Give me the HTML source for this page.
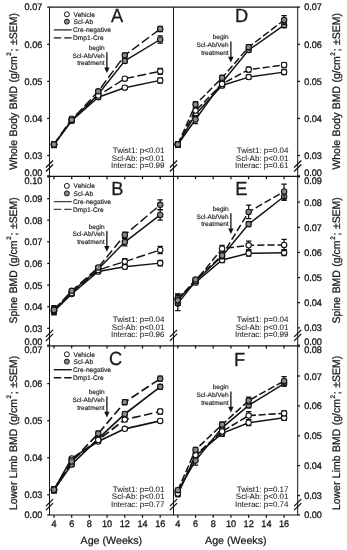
<!DOCTYPE html>
<html lang="en">
<head>
<meta charset="utf-8">
<title>BMD by age: Vehicle vs Scl-Ab, Cre-negative vs Dmp1-Cre</title>
<style>
html,body{margin:0;padding:0;background:#ffffff;}
body{width:347px;height:550px;overflow:hidden;}
svg{display:block;}
</style>
</head>
<body>
<svg width="347" height="550" viewBox="0 0 347 550" font-family="'Liberation Sans', Arial, Helvetica, sans-serif" fill="#1a1a1a" text-rendering="geometricPrecision">
<rect x="0" y="0" width="347" height="550" fill="#ffffff"/>
<g stroke="#141414" fill="none" stroke-linecap="butt">
<line x1="49" y1="7.1" x2="298.2" y2="7.1" stroke-width="1.2"/>
<line x1="49" y1="176.4" x2="298.2" y2="176.4" stroke-width="1.2"/>
<line x1="49" y1="345.8" x2="298.2" y2="345.8" stroke-width="1.2"/>
<line x1="49" y1="515" x2="298.2" y2="515" stroke-width="1.2"/>
<line x1="49.5" y1="7.1" x2="49.5" y2="515" stroke-width="1"/>
<line x1="173.5" y1="7.1" x2="173.5" y2="515" stroke-width="1"/>
<line x1="297.7" y1="7.1" x2="297.7" y2="515" stroke-width="1"/>
<line x1="54" y1="176.4" x2="54" y2="179.2" stroke-width="1.25"/>
<line x1="177.8" y1="176.4" x2="177.8" y2="179.2" stroke-width="1.25"/>
<line x1="71.7" y1="176.4" x2="71.7" y2="179.2" stroke-width="1.25"/>
<line x1="195.52" y1="176.4" x2="195.52" y2="179.2" stroke-width="1.25"/>
<line x1="89.4" y1="176.4" x2="89.4" y2="179.2" stroke-width="1.25"/>
<line x1="213.23" y1="176.4" x2="213.23" y2="179.2" stroke-width="1.25"/>
<line x1="107.1" y1="176.4" x2="107.1" y2="179.2" stroke-width="1.25"/>
<line x1="230.95" y1="176.4" x2="230.95" y2="179.2" stroke-width="1.25"/>
<line x1="124.8" y1="176.4" x2="124.8" y2="179.2" stroke-width="1.25"/>
<line x1="248.66" y1="176.4" x2="248.66" y2="179.2" stroke-width="1.25"/>
<line x1="142.5" y1="176.4" x2="142.5" y2="179.2" stroke-width="1.25"/>
<line x1="266.38" y1="176.4" x2="266.38" y2="179.2" stroke-width="1.25"/>
<line x1="160.2" y1="176.4" x2="160.2" y2="179.2" stroke-width="1.25"/>
<line x1="284.1" y1="176.4" x2="284.1" y2="179.2" stroke-width="1.25"/>
<line x1="54" y1="345.8" x2="54" y2="348.6" stroke-width="1.25"/>
<line x1="177.8" y1="345.8" x2="177.8" y2="348.6" stroke-width="1.25"/>
<line x1="71.7" y1="345.8" x2="71.7" y2="348.6" stroke-width="1.25"/>
<line x1="195.52" y1="345.8" x2="195.52" y2="348.6" stroke-width="1.25"/>
<line x1="89.4" y1="345.8" x2="89.4" y2="348.6" stroke-width="1.25"/>
<line x1="213.23" y1="345.8" x2="213.23" y2="348.6" stroke-width="1.25"/>
<line x1="107.1" y1="345.8" x2="107.1" y2="348.6" stroke-width="1.25"/>
<line x1="230.95" y1="345.8" x2="230.95" y2="348.6" stroke-width="1.25"/>
<line x1="124.8" y1="345.8" x2="124.8" y2="348.6" stroke-width="1.25"/>
<line x1="248.66" y1="345.8" x2="248.66" y2="348.6" stroke-width="1.25"/>
<line x1="142.5" y1="345.8" x2="142.5" y2="348.6" stroke-width="1.25"/>
<line x1="266.38" y1="345.8" x2="266.38" y2="348.6" stroke-width="1.25"/>
<line x1="160.2" y1="345.8" x2="160.2" y2="348.6" stroke-width="1.25"/>
<line x1="284.1" y1="345.8" x2="284.1" y2="348.6" stroke-width="1.25"/>
<line x1="54" y1="515" x2="54" y2="517.8" stroke-width="1.25"/>
<line x1="177.8" y1="515" x2="177.8" y2="517.8" stroke-width="1.25"/>
<line x1="71.7" y1="515" x2="71.7" y2="517.8" stroke-width="1.25"/>
<line x1="195.52" y1="515" x2="195.52" y2="517.8" stroke-width="1.25"/>
<line x1="89.4" y1="515" x2="89.4" y2="517.8" stroke-width="1.25"/>
<line x1="213.23" y1="515" x2="213.23" y2="517.8" stroke-width="1.25"/>
<line x1="107.1" y1="515" x2="107.1" y2="517.8" stroke-width="1.25"/>
<line x1="230.95" y1="515" x2="230.95" y2="517.8" stroke-width="1.25"/>
<line x1="124.8" y1="515" x2="124.8" y2="517.8" stroke-width="1.25"/>
<line x1="248.66" y1="515" x2="248.66" y2="517.8" stroke-width="1.25"/>
<line x1="142.5" y1="515" x2="142.5" y2="517.8" stroke-width="1.25"/>
<line x1="266.38" y1="515" x2="266.38" y2="517.8" stroke-width="1.25"/>
<line x1="160.2" y1="515" x2="160.2" y2="517.8" stroke-width="1.25"/>
<line x1="284.1" y1="515" x2="284.1" y2="517.8" stroke-width="1.25"/>
<line x1="47.2" y1="7.1" x2="49.5" y2="7.1" stroke-width="1.25"/>
<line x1="47.2" y1="44.3" x2="49.5" y2="44.3" stroke-width="1.25"/>
<line x1="47.2" y1="81.4" x2="49.5" y2="81.4" stroke-width="1.25"/>
<line x1="47.2" y1="118.45" x2="49.5" y2="118.45" stroke-width="1.25"/>
<line x1="47.2" y1="155.5" x2="49.5" y2="155.5" stroke-width="1.25"/>
<line x1="47.2" y1="176.4" x2="49.5" y2="176.4" stroke-width="1.25"/>
<line x1="47.2" y1="198.6" x2="49.5" y2="198.6" stroke-width="1.25"/>
<line x1="47.2" y1="220.2" x2="49.5" y2="220.2" stroke-width="1.25"/>
<line x1="47.2" y1="241.8" x2="49.5" y2="241.8" stroke-width="1.25"/>
<line x1="47.2" y1="263.45" x2="49.5" y2="263.45" stroke-width="1.25"/>
<line x1="47.2" y1="285.1" x2="49.5" y2="285.1" stroke-width="1.25"/>
<line x1="47.2" y1="306.7" x2="49.5" y2="306.7" stroke-width="1.25"/>
<line x1="47.2" y1="328.3" x2="49.5" y2="328.3" stroke-width="1.25"/>
<line x1="47.2" y1="345.8" x2="49.5" y2="345.8" stroke-width="1.25"/>
<line x1="47.2" y1="383.6" x2="49.5" y2="383.6" stroke-width="1.25"/>
<line x1="47.2" y1="420.7" x2="49.5" y2="420.7" stroke-width="1.25"/>
<line x1="47.2" y1="457.75" x2="49.5" y2="457.75" stroke-width="1.25"/>
<line x1="47.2" y1="494.8" x2="49.5" y2="494.8" stroke-width="1.25"/>
<line x1="297.7" y1="7.1" x2="300" y2="7.1" stroke-width="1.25"/>
<line x1="297.7" y1="44.3" x2="300" y2="44.3" stroke-width="1.25"/>
<line x1="297.7" y1="81.4" x2="300" y2="81.4" stroke-width="1.25"/>
<line x1="297.7" y1="118.45" x2="300" y2="118.45" stroke-width="1.25"/>
<line x1="297.7" y1="155.5" x2="300" y2="155.5" stroke-width="1.25"/>
<line x1="297.7" y1="176.4" x2="300" y2="176.4" stroke-width="1.25"/>
<line x1="297.7" y1="202.1" x2="300" y2="202.1" stroke-width="1.25"/>
<line x1="297.7" y1="227.3" x2="300" y2="227.3" stroke-width="1.25"/>
<line x1="297.7" y1="252.4" x2="300" y2="252.4" stroke-width="1.25"/>
<line x1="297.7" y1="277.6" x2="300" y2="277.6" stroke-width="1.25"/>
<line x1="297.7" y1="302.7" x2="300" y2="302.7" stroke-width="1.25"/>
<line x1="297.7" y1="327.9" x2="300" y2="327.9" stroke-width="1.25"/>
<line x1="297.7" y1="345.8" x2="300" y2="345.8" stroke-width="1.25"/>
<line x1="297.7" y1="376" x2="300" y2="376" stroke-width="1.25"/>
<line x1="297.7" y1="405.9" x2="300" y2="405.9" stroke-width="1.25"/>
<line x1="297.7" y1="435.8" x2="300" y2="435.8" stroke-width="1.25"/>
<line x1="297.7" y1="465.6" x2="300" y2="465.6" stroke-width="1.25"/>
<line x1="297.7" y1="495.5" x2="300" y2="495.5" stroke-width="1.25"/>
<line x1="47.2" y1="175.5" x2="49.5" y2="175.5" stroke-width="0.7"/>
<line x1="297.7" y1="175.5" x2="300" y2="175.5" stroke-width="0.7"/>
<line x1="47.2" y1="177.3" x2="49.5" y2="177.3" stroke-width="0.7"/>
<line x1="297.7" y1="177.3" x2="300" y2="177.3" stroke-width="0.7"/>
<line x1="47.2" y1="344.9" x2="49.5" y2="344.9" stroke-width="0.7"/>
<line x1="297.7" y1="344.9" x2="300" y2="344.9" stroke-width="0.7"/>
<line x1="47.2" y1="346.7" x2="49.5" y2="346.7" stroke-width="0.7"/>
<line x1="297.7" y1="346.7" x2="300" y2="346.7" stroke-width="0.7"/>
<line x1="47.2" y1="515" x2="49.5" y2="515" stroke-width="1.25"/>
<line x1="297.7" y1="515" x2="300" y2="515" stroke-width="1.25"/>
<line x1="45.9" y1="167.5" x2="53.1" y2="160.5" stroke-width="1.3"/>
<line x1="45.9" y1="171.5" x2="53.1" y2="164.5" stroke-width="1.3"/>
<line x1="169.9" y1="167.5" x2="177.1" y2="160.5" stroke-width="1.3"/>
<line x1="169.9" y1="171.5" x2="177.1" y2="164.5" stroke-width="1.3"/>
<line x1="294.1" y1="167.5" x2="301.3" y2="160.5" stroke-width="1.3"/>
<line x1="294.1" y1="171.5" x2="301.3" y2="164.5" stroke-width="1.3"/>
<line x1="45.9" y1="336.9" x2="53.1" y2="329.9" stroke-width="1.3"/>
<line x1="45.9" y1="340.9" x2="53.1" y2="333.9" stroke-width="1.3"/>
<line x1="169.9" y1="336.9" x2="177.1" y2="329.9" stroke-width="1.3"/>
<line x1="169.9" y1="340.9" x2="177.1" y2="333.9" stroke-width="1.3"/>
<line x1="294.1" y1="336.9" x2="301.3" y2="329.9" stroke-width="1.3"/>
<line x1="294.1" y1="340.9" x2="301.3" y2="333.9" stroke-width="1.3"/>
<line x1="45.9" y1="506.1" x2="53.1" y2="499.1" stroke-width="1.3"/>
<line x1="45.9" y1="510.1" x2="53.1" y2="503.1" stroke-width="1.3"/>
<line x1="169.9" y1="506.1" x2="177.1" y2="499.1" stroke-width="1.3"/>
<line x1="169.9" y1="510.1" x2="177.1" y2="503.1" stroke-width="1.3"/>
<line x1="294.1" y1="506.1" x2="301.3" y2="499.1" stroke-width="1.3"/>
<line x1="294.1" y1="510.1" x2="301.3" y2="503.1" stroke-width="1.3"/>
</g>
<text transform="translate(42.3 9.7) scale(0.95 1)" font-size="9.6" text-anchor="end" stroke="#1a1a1a" stroke-width="0.33">0.07</text>
<text transform="translate(42.3 47.8) scale(0.95 1)" font-size="9.6" text-anchor="end" stroke="#1a1a1a" stroke-width="0.33">0.06</text>
<text transform="translate(42.3 84.9) scale(0.95 1)" font-size="9.6" text-anchor="end" stroke="#1a1a1a" stroke-width="0.33">0.05</text>
<text transform="translate(42.3 121.95) scale(0.95 1)" font-size="9.6" text-anchor="end" stroke="#1a1a1a" stroke-width="0.33">0.04</text>
<text transform="translate(42.3 159) scale(0.95 1)" font-size="9.6" text-anchor="end" stroke="#1a1a1a" stroke-width="0.33">0.03</text>
<text transform="translate(42.3 183.95) scale(0.95 1)" font-size="9.6" text-anchor="end" stroke="#1a1a1a" stroke-width="0.33">0.10</text>
<text transform="translate(42.3 202.1) scale(0.95 1)" font-size="9.6" text-anchor="end" stroke="#1a1a1a" stroke-width="0.33">0.09</text>
<text transform="translate(42.3 223.7) scale(0.95 1)" font-size="9.6" text-anchor="end" stroke="#1a1a1a" stroke-width="0.33">0.08</text>
<text transform="translate(42.3 245.3) scale(0.95 1)" font-size="9.6" text-anchor="end" stroke="#1a1a1a" stroke-width="0.33">0.07</text>
<text transform="translate(42.3 266.95) scale(0.95 1)" font-size="9.6" text-anchor="end" stroke="#1a1a1a" stroke-width="0.33">0.06</text>
<text transform="translate(42.3 288.6) scale(0.95 1)" font-size="9.6" text-anchor="end" stroke="#1a1a1a" stroke-width="0.33">0.05</text>
<text transform="translate(42.3 310.2) scale(0.95 1)" font-size="9.6" text-anchor="end" stroke="#1a1a1a" stroke-width="0.33">0.04</text>
<text transform="translate(42.3 331.8) scale(0.95 1)" font-size="9.6" text-anchor="end" stroke="#1a1a1a" stroke-width="0.33">0.03</text>
<text transform="translate(42.3 353.35) scale(0.95 1)" font-size="9.6" text-anchor="end" stroke="#1a1a1a" stroke-width="0.33">0.07</text>
<text transform="translate(42.3 387.1) scale(0.95 1)" font-size="9.6" text-anchor="end" stroke="#1a1a1a" stroke-width="0.33">0.06</text>
<text transform="translate(42.3 424.2) scale(0.95 1)" font-size="9.6" text-anchor="end" stroke="#1a1a1a" stroke-width="0.33">0.05</text>
<text transform="translate(42.3 461.25) scale(0.95 1)" font-size="9.6" text-anchor="end" stroke="#1a1a1a" stroke-width="0.33">0.04</text>
<text transform="translate(42.3 498.3) scale(0.95 1)" font-size="9.6" text-anchor="end" stroke="#1a1a1a" stroke-width="0.33">0.03</text>
<text transform="translate(304.2 9.7) scale(0.95 1)" font-size="9.6" text-anchor="start" stroke="#1a1a1a" stroke-width="0.33">0.07</text>
<text transform="translate(304.2 47.8) scale(0.95 1)" font-size="9.6" text-anchor="start" stroke="#1a1a1a" stroke-width="0.33">0.06</text>
<text transform="translate(304.2 84.9) scale(0.95 1)" font-size="9.6" text-anchor="start" stroke="#1a1a1a" stroke-width="0.33">0.05</text>
<text transform="translate(304.2 121.95) scale(0.95 1)" font-size="9.6" text-anchor="start" stroke="#1a1a1a" stroke-width="0.33">0.04</text>
<text transform="translate(304.2 159) scale(0.95 1)" font-size="9.6" text-anchor="start" stroke="#1a1a1a" stroke-width="0.33">0.03</text>
<text transform="translate(304.2 183.95) scale(0.95 1)" font-size="9.6" text-anchor="start" stroke="#1a1a1a" stroke-width="0.33">0.09</text>
<text transform="translate(304.2 205.6) scale(0.95 1)" font-size="9.6" text-anchor="start" stroke="#1a1a1a" stroke-width="0.33">0.08</text>
<text transform="translate(304.2 230.8) scale(0.95 1)" font-size="9.6" text-anchor="start" stroke="#1a1a1a" stroke-width="0.33">0.07</text>
<text transform="translate(304.2 255.9) scale(0.95 1)" font-size="9.6" text-anchor="start" stroke="#1a1a1a" stroke-width="0.33">0.06</text>
<text transform="translate(304.2 281.1) scale(0.95 1)" font-size="9.6" text-anchor="start" stroke="#1a1a1a" stroke-width="0.33">0.05</text>
<text transform="translate(304.2 306.2) scale(0.95 1)" font-size="9.6" text-anchor="start" stroke="#1a1a1a" stroke-width="0.33">0.04</text>
<text transform="translate(304.2 331.4) scale(0.95 1)" font-size="9.6" text-anchor="start" stroke="#1a1a1a" stroke-width="0.33">0.03</text>
<text transform="translate(304.2 353.35) scale(0.95 1)" font-size="9.6" text-anchor="start" stroke="#1a1a1a" stroke-width="0.33">0.08</text>
<text transform="translate(304.2 379.5) scale(0.95 1)" font-size="9.6" text-anchor="start" stroke="#1a1a1a" stroke-width="0.33">0.07</text>
<text transform="translate(304.2 409.4) scale(0.95 1)" font-size="9.6" text-anchor="start" stroke="#1a1a1a" stroke-width="0.33">0.06</text>
<text transform="translate(304.2 439.3) scale(0.95 1)" font-size="9.6" text-anchor="start" stroke="#1a1a1a" stroke-width="0.33">0.05</text>
<text transform="translate(304.2 469.1) scale(0.95 1)" font-size="9.6" text-anchor="start" stroke="#1a1a1a" stroke-width="0.33">0.04</text>
<text transform="translate(304.2 499) scale(0.95 1)" font-size="9.6" text-anchor="start" stroke="#1a1a1a" stroke-width="0.33">0.03</text>
<text transform="translate(42.3 175.8) scale(0.95 1)" font-size="9.6" text-anchor="end" stroke="#1a1a1a" stroke-width="0.33">0.00</text>
<text transform="translate(304.2 175.8) scale(0.95 1)" font-size="9.6" text-anchor="start" stroke="#1a1a1a" stroke-width="0.33">0.00</text>
<text transform="translate(42.3 345.2) scale(0.95 1)" font-size="9.6" text-anchor="end" stroke="#1a1a1a" stroke-width="0.33">0.00</text>
<text transform="translate(304.2 345.2) scale(0.95 1)" font-size="9.6" text-anchor="start" stroke="#1a1a1a" stroke-width="0.33">0.00</text>
<text transform="translate(42.3 518.1) scale(0.95 1)" font-size="9.6" text-anchor="end" stroke="#1a1a1a" stroke-width="0.33">0.00</text>
<text transform="translate(304.2 518.1) scale(0.95 1)" font-size="9.6" text-anchor="start" stroke="#1a1a1a" stroke-width="0.33">0.00</text>
<text transform="translate(54 527.3) scale(0.95 1)" font-size="9.6" text-anchor="middle" stroke="#1a1a1a" stroke-width="0.33">4</text>
<text transform="translate(177.8 527.3) scale(0.95 1)" font-size="9.6" text-anchor="middle" stroke="#1a1a1a" stroke-width="0.33">4</text>
<text transform="translate(71.7 527.3) scale(0.95 1)" font-size="9.6" text-anchor="middle" stroke="#1a1a1a" stroke-width="0.33">6</text>
<text transform="translate(195.52 527.3) scale(0.95 1)" font-size="9.6" text-anchor="middle" stroke="#1a1a1a" stroke-width="0.33">6</text>
<text transform="translate(89.4 527.3) scale(0.95 1)" font-size="9.6" text-anchor="middle" stroke="#1a1a1a" stroke-width="0.33">8</text>
<text transform="translate(213.23 527.3) scale(0.95 1)" font-size="9.6" text-anchor="middle" stroke="#1a1a1a" stroke-width="0.33">8</text>
<text transform="translate(107.1 527.3) scale(0.95 1)" font-size="9.6" text-anchor="middle" stroke="#1a1a1a" stroke-width="0.33">10</text>
<text transform="translate(230.95 527.3) scale(0.95 1)" font-size="9.6" text-anchor="middle" stroke="#1a1a1a" stroke-width="0.33">10</text>
<text transform="translate(124.8 527.3) scale(0.95 1)" font-size="9.6" text-anchor="middle" stroke="#1a1a1a" stroke-width="0.33">12</text>
<text transform="translate(248.66 527.3) scale(0.95 1)" font-size="9.6" text-anchor="middle" stroke="#1a1a1a" stroke-width="0.33">12</text>
<text transform="translate(142.5 527.3) scale(0.95 1)" font-size="9.6" text-anchor="middle" stroke="#1a1a1a" stroke-width="0.33">14</text>
<text transform="translate(266.38 527.3) scale(0.95 1)" font-size="9.6" text-anchor="middle" stroke="#1a1a1a" stroke-width="0.33">14</text>
<text transform="translate(160.2 527.3) scale(0.95 1)" font-size="9.6" text-anchor="middle" stroke="#1a1a1a" stroke-width="0.33">16</text>
<text transform="translate(284.1 527.3) scale(0.95 1)" font-size="9.6" text-anchor="middle" stroke="#1a1a1a" stroke-width="0.33">16</text>
<text x="111.3" y="543.7" font-size="10.7" text-anchor="middle" stroke="#1a1a1a" stroke-width="0.22">Age (Weeks)</text>
<text x="235.8" y="543.7" font-size="10.7" text-anchor="middle" stroke="#1a1a1a" stroke-width="0.22">Age (Weeks)</text>
<text transform="translate(16.6 91.4) rotate(-90) scale(0.96 1)" font-size="10.9" text-anchor="middle" word-spacing="0.6" stroke="#1a1a1a" stroke-width="0.28">Whole Body BMD (g/cm<tspan font-size="6.54" dx="0.7" dy="-5.3">2</tspan><tspan dx="0.9" dy="5.3">; ±SEM)</tspan></text>
<text transform="translate(16.6 260.4) rotate(-90) scale(0.96 1)" font-size="10.9" text-anchor="middle" word-spacing="0.6" stroke="#1a1a1a" stroke-width="0.28">Spine BMD (g/cm<tspan font-size="6.54" dx="0.7" dy="-5.3">2</tspan><tspan dx="0.9" dy="5.3">; ±SEM)</tspan></text>
<text transform="translate(16.6 433) rotate(-90) scale(0.96 1)" font-size="10.9" text-anchor="middle" word-spacing="0.6" stroke="#1a1a1a" stroke-width="0.28">Lower Limb BMD (g/cm<tspan font-size="6.54" dx="0.7" dy="-5.3">2</tspan><tspan dx="0.9" dy="5.3">; ±SEM)</tspan></text>
<text transform="translate(339.8 91.3) rotate(-90) scale(0.96 1)" font-size="10.9" text-anchor="middle" word-spacing="0.6" stroke="#1a1a1a" stroke-width="0.28">Whole Body BMD (g/cm<tspan font-size="6.54" dx="0.7" dy="-5.3">2</tspan><tspan dx="0.9" dy="5.3">; ±SEM)</tspan></text>
<text transform="translate(339.8 260.4) rotate(-90) scale(0.96 1)" font-size="10.9" text-anchor="middle" word-spacing="0.6" stroke="#1a1a1a" stroke-width="0.28">Spine BMD (g/cm<tspan font-size="6.54" dx="0.7" dy="-5.3">2</tspan><tspan dx="0.9" dy="5.3">; ±SEM)</tspan></text>
<text transform="translate(339.8 433) rotate(-90) scale(0.96 1)" font-size="10.9" text-anchor="middle" word-spacing="0.6" stroke="#1a1a1a" stroke-width="0.28">Lower Limb BMD (g/cm<tspan font-size="6.54" dx="0.7" dy="-5.3">2</tspan><tspan dx="0.9" dy="5.3">; ±SEM)</tspan></text>
<text transform="translate(117.05 21.7) scale(0.96 1)" font-size="19" text-anchor="middle" stroke="#1a1a1a" stroke-width="0.3">A</text>
<circle cx="66.85" cy="14.3" r="2.5" fill="#ffffff" stroke="#141414" stroke-width="1.0"/>
<circle cx="66.85" cy="21.6" r="2.5" fill="#8a8a8a" stroke="#141414" stroke-width="1.0"/>
<line x1="53.8" y1="29.9" x2="71.7" y2="29.9" stroke="#141414" stroke-width="1.2"/>
<line x1="53.8" y1="37.8" x2="71.7" y2="37.8" stroke="#141414" stroke-width="1.2" stroke-dasharray="7.4 3"/>
<text x="73.6" y="16.65" font-size="6.65" text-anchor="start" stroke="#1a1a1a" stroke-width="0.15">Vehicle</text>
<text x="73.6" y="23.95" font-size="6.65" text-anchor="start" stroke="#1a1a1a" stroke-width="0.15">Scl-Ab</text>
<text x="73" y="32.25" font-size="6.65" text-anchor="start" stroke="#1a1a1a" stroke-width="0.15">Cre-negative</text>
<text x="73" y="40.15" font-size="6.65" text-anchor="start" stroke="#1a1a1a" stroke-width="0.15">Dmp1-Cre</text>
<text x="104.6" y="49.8" font-size="6.5" text-anchor="end" stroke="#1a1a1a" stroke-width="0.15">begin</text>
<text x="104.6" y="57.6" font-size="6.5" text-anchor="end" stroke="#1a1a1a" stroke-width="0.15">Scl-Ab/Veh</text>
<text x="104.6" y="65.4" font-size="6.5" text-anchor="end" stroke="#1a1a1a" stroke-width="0.15">treatment</text>
<line x1="106.88" y1="52.3" x2="106.88" y2="69" stroke="#141414" stroke-width="1.3"/>
<path d="M104.18 67.4 L109.58 67.4 L106.88 73.1 Z" fill="#141414"/>
<text x="164.5" y="152.9" font-size="8" text-anchor="end" stroke="#1a1a1a" stroke-width="0.05">Twist1: p&lt;0.01</text>
<text x="164.5" y="160.65" font-size="8" text-anchor="end" stroke="#1a1a1a" stroke-width="0.05">Scl-Ab: p&lt;0.01</text>
<text x="164.5" y="168.1" font-size="8" text-anchor="end" stroke="#1a1a1a" stroke-width="0.05">Interac: p=0.99</text>
<polyline points="54,144.6 71.7,120.8 98.25,97.2 124.8,87.7 160.2,80.4" fill="none" stroke="#141414" stroke-width="1.45"/>
<g stroke="#141414" stroke-width="1.25">
<path d="M54 141.7V147.5M51.3 141.7H56.7M51.3 147.5H56.7" fill="none"/>
<path d="M71.7 118.8V122.8M69 118.8H74.4M69 122.8H74.4" fill="none"/>
<path d="M98.25 95.2V99.2M95.55 95.2H100.95M95.55 99.2H100.95" fill="none"/>
<path d="M124.8 86.2V89.2M122.1 86.2H127.5M122.1 89.2H127.5" fill="none"/>
<path d="M160.2 77.8V83M157.5 77.8H162.9M157.5 83H162.9" fill="none"/>
</g>
<g fill="#ffffff" stroke="#141414" stroke-width="1.1">
<circle cx="54" cy="144.6" r="2.7"/>
<circle cx="71.7" cy="120.8" r="2.7"/>
<circle cx="98.25" cy="97.2" r="2.7"/>
<circle cx="124.8" cy="87.7" r="2.7"/>
<circle cx="160.2" cy="80.4" r="2.7"/>
</g>
<polyline points="54,144.5 71.7,120.3 98.25,94.2 124.8,60.9 160.2,39.5" fill="none" stroke="#141414" stroke-width="1.45"/>
<g stroke="#141414" stroke-width="1.25">
<path d="M54 141.6V147.4M51.3 141.6H56.7M51.3 147.4H56.7" fill="none"/>
<path d="M71.7 118.3V122.3M69 118.3H74.4M69 122.3H74.4" fill="none"/>
<path d="M98.25 92.2V96.2M95.55 92.2H100.95M95.55 96.2H100.95" fill="none"/>
<path d="M124.8 58.7V63.1M122.1 58.7H127.5M122.1 63.1H127.5" fill="none"/>
<path d="M160.2 35.9V43.1M157.5 35.9H162.9M157.5 43.1H162.9" fill="none"/>
</g>
<g fill="#8a8a8a" stroke="#141414" stroke-width="1.1">
<circle cx="54" cy="144.5" r="2.7"/>
<circle cx="71.7" cy="120.3" r="2.7"/>
<circle cx="98.25" cy="94.2" r="2.7"/>
<circle cx="124.8" cy="60.9" r="2.7"/>
<circle cx="160.2" cy="39.5" r="2.7"/>
</g>
<polyline points="54,144.4 71.7,118.7 98.25,95.5 124.8,78.7 160.2,71.3" fill="none" stroke="#141414" stroke-width="1.45" stroke-dasharray="9 3.3"/>
<g stroke="#141414" stroke-width="1.25">
<path d="M54 141.5V147.3M51.3 141.5H56.7M51.3 147.3H56.7" fill="none"/>
<path d="M71.7 116.7V120.7M69 116.7H74.4M69 120.7H74.4" fill="none"/>
<path d="M98.25 93.5V97.5M95.55 93.5H100.95M95.55 97.5H100.95" fill="none"/>
<path d="M124.8 77.2V80.2M122.1 77.2H127.5M122.1 80.2H127.5" fill="none"/>
<path d="M160.2 68.3V74.3M157.5 68.3H162.9M157.5 74.3H162.9" fill="none"/>
</g>
<g fill="#ffffff" stroke="#141414" stroke-width="1.1">
<circle cx="54" cy="144.4" r="2.7"/>
<circle cx="71.7" cy="118.7" r="2.7"/>
<circle cx="98.25" cy="95.5" r="2.7"/>
<circle cx="124.8" cy="78.7" r="2.7"/>
<circle cx="160.2" cy="71.3" r="2.7"/>
</g>
<polyline points="54,144.5 71.7,119.9 98.25,91.3 124.8,55.3 160.2,28.95" fill="none" stroke="#141414" stroke-width="1.45" stroke-dasharray="9 3.3"/>
<g stroke="#141414" stroke-width="1.25">
<path d="M54 141.6V147.4M51.3 141.6H56.7M51.3 147.4H56.7" fill="none"/>
<path d="M71.7 117.9V121.9M69 117.9H74.4M69 121.9H74.4" fill="none"/>
<path d="M98.25 89.3V93.3M95.55 89.3H100.95M95.55 93.3H100.95" fill="none"/>
<path d="M124.8 53.1V57.5M122.1 53.1H127.5M122.1 57.5H127.5" fill="none"/>
<path d="M160.2 26.25V31.65M157.5 26.25H162.9M157.5 31.65H162.9" fill="none"/>
</g>
<g fill="#8a8a8a" stroke="#141414" stroke-width="1.1">
<circle cx="54" cy="144.5" r="2.7"/>
<circle cx="71.7" cy="119.9" r="2.7"/>
<circle cx="98.25" cy="91.3" r="2.7"/>
<circle cx="124.8" cy="55.3" r="2.7"/>
<circle cx="160.2" cy="28.95" r="2.7"/>
</g>
<text transform="translate(117.25 194.5) scale(0.96 1)" font-size="19" text-anchor="middle" stroke="#1a1a1a" stroke-width="0.3">B</text>
<circle cx="66.85" cy="185.9" r="2.5" fill="#ffffff" stroke="#141414" stroke-width="1.0"/>
<circle cx="66.85" cy="193.4" r="2.5" fill="#8a8a8a" stroke="#141414" stroke-width="1.0"/>
<line x1="53.8" y1="201.7" x2="71.7" y2="201.7" stroke="#141414" stroke-width="1"/>
<line x1="53.8" y1="209.3" x2="71.7" y2="209.3" stroke="#141414" stroke-width="1" stroke-dasharray="7.4 3"/>
<text x="73.6" y="188.25" font-size="6.65" text-anchor="start" stroke="#1a1a1a" stroke-width="0.15">Vehicle</text>
<text x="73.6" y="195.75" font-size="6.65" text-anchor="start" stroke="#1a1a1a" stroke-width="0.15">Scl-Ab</text>
<text x="73" y="204.05" font-size="6.65" text-anchor="start" stroke="#1a1a1a" stroke-width="0.15">Cre-negative</text>
<text x="73" y="211.65" font-size="6.65" text-anchor="start" stroke="#1a1a1a" stroke-width="0.15">Dmp1-Cre</text>
<text x="104.6" y="228.5" font-size="6.5" text-anchor="end" stroke="#1a1a1a" stroke-width="0.15">begin</text>
<text x="104.6" y="236.3" font-size="6.5" text-anchor="end" stroke="#1a1a1a" stroke-width="0.15">Scl-Ab/Veh</text>
<text x="104.6" y="244.1" font-size="6.5" text-anchor="end" stroke="#1a1a1a" stroke-width="0.15">treatment</text>
<line x1="106.88" y1="231" x2="106.88" y2="247.7" stroke="#141414" stroke-width="1.3"/>
<path d="M104.18 246.1 L109.58 246.1 L106.88 251.8 Z" fill="#141414"/>
<text x="164.5" y="322.2" font-size="8" text-anchor="end" stroke="#1a1a1a" stroke-width="0.05">Twist1: p=0.04</text>
<text x="164.5" y="329.95" font-size="8" text-anchor="end" stroke="#1a1a1a" stroke-width="0.05">Scl-Ab: p&lt;0.01</text>
<text x="164.5" y="337.4" font-size="8" text-anchor="end" stroke="#1a1a1a" stroke-width="0.05">Interac: p=0.96</text>
<polyline points="54,311.3 71.7,294 98.25,271.5 124.8,266.8 160.2,263.1" fill="none" stroke="#141414" stroke-width="1.45"/>
<g stroke="#141414" stroke-width="1.25">
<path d="M54 307.7V314.9M51.3 307.7H56.7M51.3 314.9H56.7" fill="none"/>
<path d="M71.7 292.5V295.5M69 292.5H74.4M69 295.5H74.4" fill="none"/>
<path d="M98.25 269.5V273.5M95.55 269.5H100.95M95.55 273.5H100.95" fill="none"/>
<path d="M124.8 264.8V268.8M122.1 264.8H127.5M122.1 268.8H127.5" fill="none"/>
<path d="M160.2 260.3V265.9M157.5 260.3H162.9M157.5 265.9H162.9" fill="none"/>
</g>
<g fill="#ffffff" stroke="#141414" stroke-width="1.1">
<circle cx="54" cy="311.3" r="2.7"/>
<circle cx="71.7" cy="294" r="2.7"/>
<circle cx="98.25" cy="271.5" r="2.7"/>
<circle cx="124.8" cy="266.8" r="2.7"/>
<circle cx="160.2" cy="263.1" r="2.7"/>
</g>
<polyline points="54,310.7 71.7,292 98.25,269 124.8,242.1 160.2,214.9" fill="none" stroke="#141414" stroke-width="1.45"/>
<g stroke="#141414" stroke-width="1.25">
<path d="M54 307.1V314.3M51.3 307.1H56.7M51.3 314.3H56.7" fill="none"/>
<path d="M71.7 290.5V293.5M69 290.5H74.4M69 293.5H74.4" fill="none"/>
<path d="M98.25 267V271M95.55 267H100.95M95.55 271H100.95" fill="none"/>
<path d="M124.8 238.4V245.8M122.1 238.4H127.5M122.1 245.8H127.5" fill="none"/>
<path d="M160.2 209.6V220.2M157.5 209.6H162.9M157.5 220.2H162.9" fill="none"/>
</g>
<g fill="#8a8a8a" stroke="#141414" stroke-width="1.1">
<circle cx="54" cy="310.7" r="2.7"/>
<circle cx="71.7" cy="292" r="2.7"/>
<circle cx="98.25" cy="269" r="2.7"/>
<circle cx="124.8" cy="242.1" r="2.7"/>
<circle cx="160.2" cy="214.9" r="2.7"/>
</g>
<polyline points="54,309.2 71.7,293 98.25,270 124.8,261.6 160.2,250" fill="none" stroke="#141414" stroke-width="1.45" stroke-dasharray="9 3.4"/>
<g stroke="#141414" stroke-width="1.25">
<path d="M54 305.6V312.8M51.3 305.6H56.7M51.3 312.8H56.7" fill="none"/>
<path d="M71.7 291.5V294.5M69 291.5H74.4M69 294.5H74.4" fill="none"/>
<path d="M98.25 268V272M95.55 268H100.95M95.55 272H100.95" fill="none"/>
<path d="M124.8 258.6V264.6M122.1 258.6H127.5M122.1 264.6H127.5" fill="none"/>
<path d="M160.2 246.3V253.7M157.5 246.3H162.9M157.5 253.7H162.9" fill="none"/>
</g>
<g fill="#ffffff" stroke="#141414" stroke-width="1.1">
<circle cx="54" cy="309.2" r="2.7"/>
<circle cx="71.7" cy="293" r="2.7"/>
<circle cx="98.25" cy="270" r="2.7"/>
<circle cx="124.8" cy="261.6" r="2.7"/>
<circle cx="160.2" cy="250" r="2.7"/>
</g>
<polyline points="54,309.9 71.7,290.8 98.25,267.5 124.8,235 160.2,204.8" fill="none" stroke="#141414" stroke-width="1.45" stroke-dasharray="9 3.4"/>
<g stroke="#141414" stroke-width="1.25">
<path d="M54 306.3V313.5M51.3 306.3H56.7M51.3 313.5H56.7" fill="none"/>
<path d="M71.7 289.3V292.3M69 289.3H74.4M69 292.3H74.4" fill="none"/>
<path d="M98.25 265.5V269.5M95.55 265.5H100.95M95.55 269.5H100.95" fill="none"/>
<path d="M124.8 232V238M122.1 232H127.5M122.1 238H127.5" fill="none"/>
<path d="M160.2 199.8V209.8M157.5 199.8H162.9M157.5 209.8H162.9" fill="none"/>
</g>
<g fill="#8a8a8a" stroke="#141414" stroke-width="1.1">
<circle cx="54" cy="309.9" r="2.7"/>
<circle cx="71.7" cy="290.8" r="2.7"/>
<circle cx="98.25" cy="267.5" r="2.7"/>
<circle cx="124.8" cy="235" r="2.7"/>
<circle cx="160.2" cy="204.8" r="2.7"/>
</g>
<text transform="translate(115.5 365) scale(0.96 1)" font-size="19" text-anchor="middle" stroke="#1a1a1a" stroke-width="0.3">C</text>
<circle cx="66.85" cy="354.3" r="2.5" fill="#ffffff" stroke="#141414" stroke-width="1.0"/>
<circle cx="66.85" cy="361.6" r="2.5" fill="#8a8a8a" stroke="#141414" stroke-width="1.0"/>
<line x1="53.8" y1="369.7" x2="71.7" y2="369.7" stroke="#141414" stroke-width="1.45"/>
<line x1="53.8" y1="377.8" x2="71.7" y2="377.8" stroke="#141414" stroke-width="1.45" stroke-dasharray="7.4 3"/>
<text x="73.6" y="356.65" font-size="6.65" text-anchor="start" stroke="#1a1a1a" stroke-width="0.15">Vehicle</text>
<text x="73.6" y="363.95" font-size="6.65" text-anchor="start" stroke="#1a1a1a" stroke-width="0.15">Scl-Ab</text>
<text x="73" y="372.05" font-size="6.65" text-anchor="start" stroke="#1a1a1a" stroke-width="0.15">Cre-negative</text>
<text x="73" y="380.15" font-size="6.65" text-anchor="start" stroke="#1a1a1a" stroke-width="0.15">Dmp1-Cre</text>
<text x="104.6" y="394.1" font-size="6.5" text-anchor="end" stroke="#1a1a1a" stroke-width="0.15">begin</text>
<text x="104.6" y="401.9" font-size="6.5" text-anchor="end" stroke="#1a1a1a" stroke-width="0.15">Scl-Ab/Veh</text>
<text x="104.6" y="409.7" font-size="6.5" text-anchor="end" stroke="#1a1a1a" stroke-width="0.15">treatment</text>
<line x1="106.88" y1="396.6" x2="106.88" y2="413.3" stroke="#141414" stroke-width="1.3"/>
<path d="M104.18 411.7 L109.58 411.7 L106.88 417.4 Z" fill="#141414"/>
<text x="164.5" y="491.6" font-size="8" text-anchor="end" stroke="#1a1a1a" stroke-width="0.05">Twist1: p=0.01</text>
<text x="164.5" y="499.35" font-size="8" text-anchor="end" stroke="#1a1a1a" stroke-width="0.05">Scl-Ab: p&lt;0.01</text>
<text x="164.5" y="506.8" font-size="8" text-anchor="end" stroke="#1a1a1a" stroke-width="0.05">Interac: p=0.77</text>
<polyline points="54,489.9 71.7,458.4 98.25,441.5 124.8,428.8 160.2,420.9" fill="none" stroke="#141414" stroke-width="1.7"/>
<g stroke="#141414" stroke-width="1.25">
<path d="M54 487V492.8M51.3 487H56.7M51.3 492.8H56.7" fill="none"/>
<path d="M71.7 456.9V459.9M69 456.9H74.4M69 459.9H74.4" fill="none"/>
<path d="M98.25 440V443M95.55 440H100.95M95.55 443H100.95" fill="none"/>
<path d="M124.8 427.3V430.3M122.1 427.3H127.5M122.1 430.3H127.5" fill="none"/>
<path d="M160.2 419.4V422.4M157.5 419.4H162.9M157.5 422.4H162.9" fill="none"/>
</g>
<g fill="#ffffff" stroke="#141414" stroke-width="1.1">
<circle cx="54" cy="489.9" r="2.7"/>
<circle cx="71.7" cy="458.4" r="2.7"/>
<circle cx="98.25" cy="441.5" r="2.7"/>
<circle cx="124.8" cy="428.8" r="2.7"/>
<circle cx="160.2" cy="420.9" r="2.7"/>
</g>
<polyline points="54,489.8 71.7,464.5 98.25,438.7 124.8,414 160.2,386.8" fill="none" stroke="#141414" stroke-width="1.7"/>
<g stroke="#141414" stroke-width="1.25">
<path d="M54 486.9V492.7M51.3 486.9H56.7M51.3 492.7H56.7" fill="none"/>
<path d="M71.7 462.5V466.5M69 462.5H74.4M69 466.5H74.4" fill="none"/>
<path d="M98.25 436.7V440.7M95.55 436.7H100.95M95.55 440.7H100.95" fill="none"/>
<path d="M124.8 411.5V416.5M122.1 411.5H127.5M122.1 416.5H127.5" fill="none"/>
<path d="M160.2 384.3V389.3M157.5 384.3H162.9M157.5 389.3H162.9" fill="none"/>
</g>
<g fill="#8a8a8a" stroke="#141414" stroke-width="1.1">
<circle cx="54" cy="489.8" r="2.7"/>
<circle cx="71.7" cy="464.5" r="2.7"/>
<circle cx="98.25" cy="438.7" r="2.7"/>
<circle cx="124.8" cy="414" r="2.7"/>
<circle cx="160.2" cy="386.8" r="2.7"/>
</g>
<polyline points="54,489.7 71.7,460 98.25,440 124.8,419.6 160.2,411.5" fill="none" stroke="#141414" stroke-width="1.7" stroke-dasharray="8.6 3.5"/>
<g stroke="#141414" stroke-width="1.25">
<path d="M54 486.8V492.6M51.3 486.8H56.7M51.3 492.6H56.7" fill="none"/>
<path d="M71.7 458.5V461.5M69 458.5H74.4M69 461.5H74.4" fill="none"/>
<path d="M98.25 438.5V441.5M95.55 438.5H100.95M95.55 441.5H100.95" fill="none"/>
<path d="M124.8 417.6V421.6M122.1 417.6H127.5M122.1 421.6H127.5" fill="none"/>
<path d="M160.2 409V414M157.5 409H162.9M157.5 414H162.9" fill="none"/>
</g>
<g fill="#ffffff" stroke="#141414" stroke-width="1.1">
<circle cx="54" cy="489.7" r="2.7"/>
<circle cx="71.7" cy="460" r="2.7"/>
<circle cx="98.25" cy="440" r="2.7"/>
<circle cx="124.8" cy="419.6" r="2.7"/>
<circle cx="160.2" cy="411.5" r="2.7"/>
</g>
<polyline points="54,489.75 71.7,461.5 98.25,433.6 124.8,402.2 160.2,378.7" fill="none" stroke="#141414" stroke-width="1.7" stroke-dasharray="8.6 3.5"/>
<g stroke="#141414" stroke-width="1.25">
<path d="M54 486.85V492.65M51.3 486.85H56.7M51.3 492.65H56.7" fill="none"/>
<path d="M71.7 459.5V463.5M69 459.5H74.4M69 463.5H74.4" fill="none"/>
<path d="M98.25 431.1V436.1M95.55 431.1H100.95M95.55 436.1H100.95" fill="none"/>
<path d="M124.8 399.7V404.7M122.1 399.7H127.5M122.1 404.7H127.5" fill="none"/>
<path d="M160.2 376.2V381.2M157.5 376.2H162.9M157.5 381.2H162.9" fill="none"/>
</g>
<g fill="#8a8a8a" stroke="#141414" stroke-width="1.1">
<circle cx="54" cy="489.75" r="2.7"/>
<circle cx="71.7" cy="461.5" r="2.7"/>
<circle cx="98.25" cy="433.6" r="2.7"/>
<circle cx="124.8" cy="402.2" r="2.7"/>
<circle cx="160.2" cy="378.7" r="2.7"/>
</g>
<text transform="translate(241.5 22.4) scale(0.96 1)" font-size="19" text-anchor="middle" stroke="#1a1a1a" stroke-width="0.3">D</text>
<text x="228.6" y="39.1" font-size="6.5" text-anchor="end" stroke="#1a1a1a" stroke-width="0.15">begin</text>
<text x="228.6" y="46.9" font-size="6.5" text-anchor="end" stroke="#1a1a1a" stroke-width="0.15">Scl-Ab/Veh</text>
<text x="228.6" y="54.7" font-size="6.5" text-anchor="end" stroke="#1a1a1a" stroke-width="0.15">treatment</text>
<line x1="230.88" y1="41.6" x2="230.88" y2="58.3" stroke="#141414" stroke-width="1.3"/>
<path d="M228.18 56.7 L233.58 56.7 L230.88 62.4 Z" fill="#141414"/>
<text x="288.5" y="152.9" font-size="8" text-anchor="end" stroke="#1a1a1a" stroke-width="0.05">Twist1: p=0.04</text>
<text x="288.5" y="160.65" font-size="8" text-anchor="end" stroke="#1a1a1a" stroke-width="0.05">Scl-Ab: p&lt;0.01</text>
<text x="288.5" y="168.1" font-size="8" text-anchor="end" stroke="#1a1a1a" stroke-width="0.05">Interac: p=0.61</text>
<polyline points="177.8,144.5 195.52,114.3 222.09,85.5 248.66,77.1 284.1,72.1" fill="none" stroke="#141414" stroke-width="1.45"/>
<g stroke="#141414" stroke-width="1.25">
<path d="M177.8 141.7V147.3M175.1 141.7H180.5M175.1 147.3H180.5" fill="none"/>
<path d="M195.52 112.3V116.3M192.82 112.3H198.22M192.82 116.3H198.22" fill="none"/>
<path d="M222.09 83.5V87.5M219.39 83.5H224.79M219.39 87.5H224.79" fill="none"/>
<path d="M248.66 75.1V79.1M245.96 75.1H251.36M245.96 79.1H251.36" fill="none"/>
<path d="M284.1 69.6V74.6M281.4 69.6H286.8M281.4 74.6H286.8" fill="none"/>
</g>
<g fill="#ffffff" stroke="#141414" stroke-width="1.1">
<circle cx="177.8" cy="144.5" r="2.7"/>
<circle cx="195.52" cy="114.3" r="2.7"/>
<circle cx="222.09" cy="85.5" r="2.7"/>
<circle cx="248.66" cy="77.1" r="2.7"/>
<circle cx="284.1" cy="72.1" r="2.7"/>
</g>
<polyline points="177.8,144.5 195.52,119.5 222.09,82.5 248.66,50 284.1,25.2" fill="none" stroke="#141414" stroke-width="1.45"/>
<g stroke="#141414" stroke-width="1.25">
<path d="M177.8 141.7V147.3M175.1 141.7H180.5M175.1 147.3H180.5" fill="none"/>
<path d="M195.52 115.5V123.5M192.82 115.5H198.22M192.82 123.5H198.22" fill="none"/>
<path d="M222.09 80.5V84.5M219.39 80.5H224.79M219.39 84.5H224.79" fill="none"/>
<path d="M248.66 48V52M245.96 48H251.36M245.96 52H251.36" fill="none"/>
<path d="M284.1 22.7V27.7M281.4 22.7H286.8M281.4 27.7H286.8" fill="none"/>
</g>
<g fill="#8a8a8a" stroke="#141414" stroke-width="1.1">
<circle cx="177.8" cy="144.5" r="2.7"/>
<circle cx="195.52" cy="119.5" r="2.7"/>
<circle cx="222.09" cy="82.5" r="2.7"/>
<circle cx="248.66" cy="50" r="2.7"/>
<circle cx="284.1" cy="25.2" r="2.7"/>
</g>
<polyline points="177.8,144.3 195.52,110.6 222.09,84 248.66,69.6 284.1,65" fill="none" stroke="#141414" stroke-width="1.45" stroke-dasharray="7.2 2.8"/>
<g stroke="#141414" stroke-width="1.25">
<path d="M177.8 141.5V147.1M175.1 141.5H180.5M175.1 147.1H180.5" fill="none"/>
<path d="M195.52 108.6V112.6M192.82 108.6H198.22M192.82 112.6H198.22" fill="none"/>
<path d="M222.09 82V86M219.39 82H224.79M219.39 86H224.79" fill="none"/>
<path d="M248.66 67.1V72.1M245.96 67.1H251.36M245.96 72.1H251.36" fill="none"/>
<path d="M284.1 62.5V67.5M281.4 62.5H286.8M281.4 67.5H286.8" fill="none"/>
</g>
<g fill="#ffffff" stroke="#141414" stroke-width="1.1">
<circle cx="177.8" cy="144.3" r="2.7"/>
<circle cx="195.52" cy="110.6" r="2.7"/>
<circle cx="222.09" cy="84" r="2.7"/>
<circle cx="248.66" cy="69.6" r="2.7"/>
<circle cx="284.1" cy="65" r="2.7"/>
</g>
<polyline points="177.8,144.4 195.52,104.5 222.09,77.8 248.66,47.2 284.1,20" fill="none" stroke="#141414" stroke-width="1.45" stroke-dasharray="7.2 2.8"/>
<g stroke="#141414" stroke-width="1.25">
<path d="M177.8 141.6V147.2M175.1 141.6H180.5M175.1 147.2H180.5" fill="none"/>
<path d="M195.52 101.5V107.5M192.82 101.5H198.22M192.82 107.5H198.22" fill="none"/>
<path d="M222.09 75.3V80.3M219.39 75.3H224.79M219.39 80.3H224.79" fill="none"/>
<path d="M248.66 44.7V49.7M245.96 44.7H251.36M245.96 49.7H251.36" fill="none"/>
<path d="M284.1 15.7V24.3M281.4 15.7H286.8M281.4 24.3H286.8" fill="none"/>
</g>
<g fill="#8a8a8a" stroke="#141414" stroke-width="1.1">
<circle cx="177.8" cy="144.4" r="2.7"/>
<circle cx="195.52" cy="104.5" r="2.7"/>
<circle cx="222.09" cy="77.8" r="2.7"/>
<circle cx="248.66" cy="47.2" r="2.7"/>
<circle cx="284.1" cy="20" r="2.7"/>
</g>
<text transform="translate(241.35 194.5) scale(0.96 1)" font-size="19" text-anchor="middle" stroke="#1a1a1a" stroke-width="0.3">E</text>
<text x="228.6" y="210.8" font-size="6.5" text-anchor="end" stroke="#1a1a1a" stroke-width="0.15">begin</text>
<text x="228.6" y="218.6" font-size="6.5" text-anchor="end" stroke="#1a1a1a" stroke-width="0.15">Scl-Ab/Veh</text>
<text x="228.6" y="226.4" font-size="6.5" text-anchor="end" stroke="#1a1a1a" stroke-width="0.15">treatment</text>
<line x1="230.88" y1="213.3" x2="230.88" y2="230" stroke="#141414" stroke-width="1.3"/>
<path d="M228.18 228.4 L233.58 228.4 L230.88 234.1 Z" fill="#141414"/>
<text x="288.5" y="322.2" font-size="8" text-anchor="end" stroke="#1a1a1a" stroke-width="0.05">Twist1: p=0.04</text>
<text x="288.5" y="329.95" font-size="8" text-anchor="end" stroke="#1a1a1a" stroke-width="0.05">Scl-Ab: p&lt;0.01</text>
<text x="288.5" y="337.4" font-size="8" text-anchor="end" stroke="#1a1a1a" stroke-width="0.05">Interac: p=0.99</text>
<polyline points="177.8,299 195.52,282.5 222.09,260 248.66,253.3 284.1,252.7" fill="none" stroke="#141414" stroke-width="1.5"/>
<g stroke="#141414" stroke-width="1.25">
<path d="M177.8 294V304M175.1 294H180.5M175.1 304H180.5" fill="none"/>
<path d="M195.52 280.5V284.5M192.82 280.5H198.22M192.82 284.5H198.22" fill="none"/>
<path d="M222.09 257.5V262.5M219.39 257.5H224.79M219.39 262.5H224.79" fill="none"/>
<path d="M248.66 250.5V256.1M245.96 250.5H251.36M245.96 256.1H251.36" fill="none"/>
<path d="M284.1 249.7V255.7M281.4 249.7H286.8M281.4 255.7H286.8" fill="none"/>
</g>
<g fill="#ffffff" stroke="#141414" stroke-width="1.1">
<circle cx="177.8" cy="299" r="2.7"/>
<circle cx="195.52" cy="282.5" r="2.7"/>
<circle cx="222.09" cy="260" r="2.7"/>
<circle cx="248.66" cy="253.3" r="2.7"/>
<circle cx="284.1" cy="252.7" r="2.7"/>
</g>
<polyline points="177.8,303.6 195.52,281 222.09,256.2 248.66,224.1 284.1,196.5" fill="none" stroke="#141414" stroke-width="1.5"/>
<g stroke="#141414" stroke-width="1.25">
<path d="M177.8 296.6V310.6M175.1 296.6H180.5M175.1 310.6H180.5" fill="none"/>
<path d="M195.52 279V283M192.82 279H198.22M192.82 283H198.22" fill="none"/>
<path d="M222.09 253.7V258.7M219.39 253.7H224.79M219.39 258.7H224.79" fill="none"/>
<path d="M248.66 221.6V226.6M245.96 221.6H251.36M245.96 226.6H251.36" fill="none"/>
<path d="M284.1 192.7V200.3M281.4 192.7H286.8M281.4 200.3H286.8" fill="none"/>
</g>
<g fill="#8a8a8a" stroke="#141414" stroke-width="1.1">
<circle cx="177.8" cy="303.6" r="2.7"/>
<circle cx="195.52" cy="281" r="2.7"/>
<circle cx="222.09" cy="256.2" r="2.7"/>
<circle cx="248.66" cy="224.1" r="2.7"/>
<circle cx="284.1" cy="196.5" r="2.7"/>
</g>
<polyline points="177.8,298.4 195.52,281 222.09,248.7 248.66,245.3 284.1,244.9" fill="none" stroke="#141414" stroke-width="1.5" stroke-dasharray="7.2 3"/>
<g stroke="#141414" stroke-width="1.25">
<path d="M177.8 293.9V302.9M175.1 293.9H180.5M175.1 302.9H180.5" fill="none"/>
<path d="M195.52 279V283M192.82 279H198.22M192.82 283H198.22" fill="none"/>
<path d="M222.09 245.4V252M219.39 245.4H224.79M219.39 252H224.79" fill="none"/>
<path d="M248.66 241V249.6M245.96 241H251.36M245.96 249.6H251.36" fill="none"/>
<path d="M284.1 239.3V250.5M281.4 239.3H286.8M281.4 250.5H286.8" fill="none"/>
</g>
<g fill="#ffffff" stroke="#141414" stroke-width="1.1">
<circle cx="177.8" cy="298.4" r="2.7"/>
<circle cx="195.52" cy="281" r="2.7"/>
<circle cx="222.09" cy="248.7" r="2.7"/>
<circle cx="248.66" cy="245.3" r="2.7"/>
<circle cx="284.1" cy="244.9" r="2.7"/>
</g>
<polyline points="177.8,300.3 195.52,279.6 222.09,255.5 248.66,211.9 284.1,191.5" fill="none" stroke="#141414" stroke-width="1.5" stroke-dasharray="7.2 3"/>
<g stroke="#141414" stroke-width="1.25">
<path d="M177.8 295.3V305.3M175.1 295.3H180.5M175.1 305.3H180.5" fill="none"/>
<path d="M195.52 277.6V281.6M192.82 277.6H198.22M192.82 281.6H198.22" fill="none"/>
<path d="M222.09 253V258M219.39 253H224.79M219.39 258H224.79" fill="none"/>
<path d="M248.66 205.2V218.6M245.96 205.2H251.36M245.96 218.6H251.36" fill="none"/>
<path d="M284.1 184V199M281.4 184H286.8M281.4 199H286.8" fill="none"/>
</g>
<g fill="#8a8a8a" stroke="#141414" stroke-width="1.1">
<circle cx="177.8" cy="300.3" r="2.7"/>
<circle cx="195.52" cy="279.6" r="2.7"/>
<circle cx="222.09" cy="255.5" r="2.7"/>
<circle cx="248.66" cy="211.9" r="2.7"/>
<circle cx="284.1" cy="191.5" r="2.7"/>
</g>
<text transform="translate(239.5 365.7) scale(0.96 1)" font-size="19" text-anchor="middle" stroke="#1a1a1a" stroke-width="0.3">F</text>
<text x="228.6" y="389.1" font-size="6.5" text-anchor="end" stroke="#1a1a1a" stroke-width="0.15">begin</text>
<text x="228.6" y="396.9" font-size="6.5" text-anchor="end" stroke="#1a1a1a" stroke-width="0.15">Scl-Ab/Veh</text>
<text x="228.6" y="404.7" font-size="6.5" text-anchor="end" stroke="#1a1a1a" stroke-width="0.15">treatment</text>
<line x1="230.88" y1="391.6" x2="230.88" y2="408.3" stroke="#141414" stroke-width="1.3"/>
<path d="M228.18 406.7 L233.58 406.7 L230.88 412.4 Z" fill="#141414"/>
<text x="288.5" y="491.6" font-size="8" text-anchor="end" stroke="#1a1a1a" stroke-width="0.05">Twist1: p=0.17</text>
<text x="288.5" y="499.35" font-size="8" text-anchor="end" stroke="#1a1a1a" stroke-width="0.05">Scl-Ab: p&lt;0.01</text>
<text x="288.5" y="506.8" font-size="8" text-anchor="end" stroke="#1a1a1a" stroke-width="0.05">Interac: p=0.74</text>
<polyline points="177.8,494.3 195.52,456 222.09,433.4 248.66,422.7 284.1,417.8" fill="none" stroke="#141414" stroke-width="1.55"/>
<g stroke="#141414" stroke-width="1.25">
<path d="M177.8 491.9V496.7M175.1 491.9H180.5M175.1 496.7H180.5" fill="none"/>
<path d="M195.52 454V458M192.82 454H198.22M192.82 458H198.22" fill="none"/>
<path d="M222.09 430.4V436.4M219.39 430.4H224.79M219.39 436.4H224.79" fill="none"/>
<path d="M248.66 419.7V425.7M245.96 419.7H251.36M245.96 425.7H251.36" fill="none"/>
<path d="M284.1 415.3V420.3M281.4 415.3H286.8M281.4 420.3H286.8" fill="none"/>
</g>
<g fill="#ffffff" stroke="#141414" stroke-width="1.1">
<circle cx="177.8" cy="494.3" r="2.7"/>
<circle cx="195.52" cy="456" r="2.7"/>
<circle cx="222.09" cy="433.4" r="2.7"/>
<circle cx="248.66" cy="422.7" r="2.7"/>
<circle cx="284.1" cy="417.8" r="2.7"/>
</g>
<polyline points="177.8,491 195.52,460.6 222.09,427.8 248.66,405.3 284.1,383.7" fill="none" stroke="#141414" stroke-width="1.55"/>
<g stroke="#141414" stroke-width="1.25">
<path d="M177.8 489V493M175.1 489H180.5M175.1 493H180.5" fill="none"/>
<path d="M195.52 456.1V465.1M192.82 456.1H198.22M192.82 465.1H198.22" fill="none"/>
<path d="M222.09 425.3V430.3M219.39 425.3H224.79M219.39 430.3H224.79" fill="none"/>
<path d="M248.66 402.8V407.8M245.96 402.8H251.36M245.96 407.8H251.36" fill="none"/>
<path d="M284.1 381.2V386.2M281.4 381.2H286.8M281.4 386.2H286.8" fill="none"/>
</g>
<g fill="#8a8a8a" stroke="#141414" stroke-width="1.1">
<circle cx="177.8" cy="491" r="2.7"/>
<circle cx="195.52" cy="460.6" r="2.7"/>
<circle cx="222.09" cy="427.8" r="2.7"/>
<circle cx="248.66" cy="405.3" r="2.7"/>
<circle cx="284.1" cy="383.7" r="2.7"/>
</g>
<polyline points="177.8,493.6 195.52,455 222.09,431.5 248.66,415.6 284.1,413.3" fill="none" stroke="#141414" stroke-width="1.55" stroke-dasharray="7.2 2.7"/>
<g stroke="#141414" stroke-width="1.25">
<path d="M177.8 491.2V496M175.1 491.2H180.5M175.1 496H180.5" fill="none"/>
<path d="M195.52 453V457M192.82 453H198.22M192.82 457H198.22" fill="none"/>
<path d="M222.09 429V434M219.39 429H224.79M219.39 434H224.79" fill="none"/>
<path d="M248.66 411.6V419.6M245.96 411.6H251.36M245.96 419.6H251.36" fill="none"/>
<path d="M284.1 410.8V415.8M281.4 410.8H286.8M281.4 415.8H286.8" fill="none"/>
</g>
<g fill="#ffffff" stroke="#141414" stroke-width="1.1">
<circle cx="177.8" cy="493.6" r="2.7"/>
<circle cx="195.52" cy="455" r="2.7"/>
<circle cx="222.09" cy="431.5" r="2.7"/>
<circle cx="248.66" cy="415.6" r="2.7"/>
<circle cx="284.1" cy="413.3" r="2.7"/>
</g>
<polyline points="177.8,490.2 195.52,449.9 222.09,424.6 248.66,400.6 284.1,380.9" fill="none" stroke="#141414" stroke-width="1.55" stroke-dasharray="7.2 2.7"/>
<g stroke="#141414" stroke-width="1.25">
<path d="M177.8 488.2V492.2M175.1 488.2H180.5M175.1 492.2H180.5" fill="none"/>
<path d="M195.52 447.4V452.4M192.82 447.4H198.22M192.82 452.4H198.22" fill="none"/>
<path d="M222.09 422.1V427.1M219.39 422.1H224.79M219.39 427.1H224.79" fill="none"/>
<path d="M248.66 397.2V404M245.96 397.2H251.36M245.96 404H251.36" fill="none"/>
<path d="M284.1 376.6V385.2M281.4 376.6H286.8M281.4 385.2H286.8" fill="none"/>
</g>
<g fill="#8a8a8a" stroke="#141414" stroke-width="1.1">
<circle cx="177.8" cy="490.2" r="2.7"/>
<circle cx="195.52" cy="449.9" r="2.7"/>
<circle cx="222.09" cy="424.6" r="2.7"/>
<circle cx="248.66" cy="400.6" r="2.7"/>
<circle cx="284.1" cy="380.9" r="2.7"/>
</g>
</svg>
</body>
</html>
